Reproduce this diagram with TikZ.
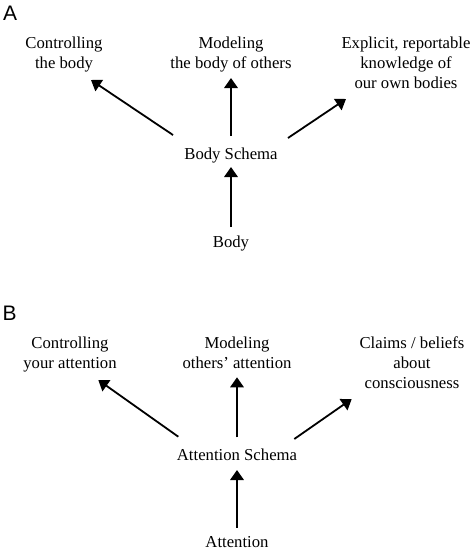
\documentclass[tikz,border=0pt]{standalone}
\usepackage{fontspec}
\setmainfont{Liberation Serif}
\newfontfamily\panelfont{Liberation Sans}
\usetikzlibrary{arrows.meta}

\tikzset{
  % text of each box
  lbl/.style={inner sep=0pt, align=center, font=\fontsize{16.7}{20}\selectfont},
  % panel letters
  panel/.style={inner sep=0pt, anchor=base west, font=\panelfont\fontsize{21}{24}\selectfont},
  % arrows between the boxes
  arr/.style={line width=1.8pt, -{Triangle[length=10pt,width=13.5pt]}}
}

\begin{document}
\begin{tikzpicture}[x=1pt,y=-1pt]

  \useasboundingbox (0,0) rectangle (474,550);

  % panel A
  \node[panel] (A) at (3,20) {A};

  % upper row of panel A
  \node[lbl,anchor=north] (ctrlA) at (64,36.6) {Controlling\\the body};
  \node[lbl,anchor=north] (modelA) at (231,36.6) {Modeling\\the body of others};
  \node[lbl,anchor=north] (explA) at (406,36.6) {Explicit, reportable\\knowledge of\\our own bodies};

  % schema and its source
  \node[lbl,anchor=base] (schemaA) at (231,159.5) {Body Schema};
  \node[lbl,anchor=base] (bodyA) at (231,247.5) {Body};

  % arrows of panel A
  \draw[arr] ([shift={(-58,-24.5)}]schemaA.base) -- ([shift={(27,43.4)}]ctrlA.north);
  \draw[arr] ([shift={(0,-23.5)}]schemaA.base) -- ([shift={(0,41.4)}]modelA.north);
  \draw[arr] ([shift={(57,-21.5)}]schemaA.base) -- ([shift={(-60,62.4)}]explA.north);
  \draw[arr] ([shift={(0,-20.5)}]bodyA.base) -- ([shift={(0,7.5)}]schemaA.base);

  % panel B
  \node[panel] (B) at (2.5,320) {B};

  % upper row of panel B
  \node[lbl,anchor=north] (ctrlB) at (70,336.3) {Controlling\\your attention};
  \node[lbl,anchor=north] (modelB) at (237,336.3) {Modeling\\others’ attention};
  \node[lbl,anchor=north] (claimB) at (412,336.3) {Claims / beliefs\\about\\consciousness};

  % schema and its source
  \node[lbl,anchor=base] (schemaB) at (237,460) {Attention Schema};
  \node[lbl,anchor=base] (attB) at (237,547) {Attention};

  % arrows of panel B
  \draw[arr] ([shift={(-58.7,-23.3)}]schemaB.base) -- ([shift={(28.3,43.7)}]ctrlB.north);
  \draw[arr] ([shift={(0,-22.7)}]schemaB.base) -- ([shift={(0,41)}]modelB.north);
  \draw[arr] ([shift={(57.3,-21)}]schemaB.base) -- ([shift={(-60.3,62.7)}]claimB.north);
  \draw[arr] ([shift={(0,-19.3)}]attB.base) -- ([shift={(0,10)}]schemaB.base);

\end{tikzpicture}
\end{document}
